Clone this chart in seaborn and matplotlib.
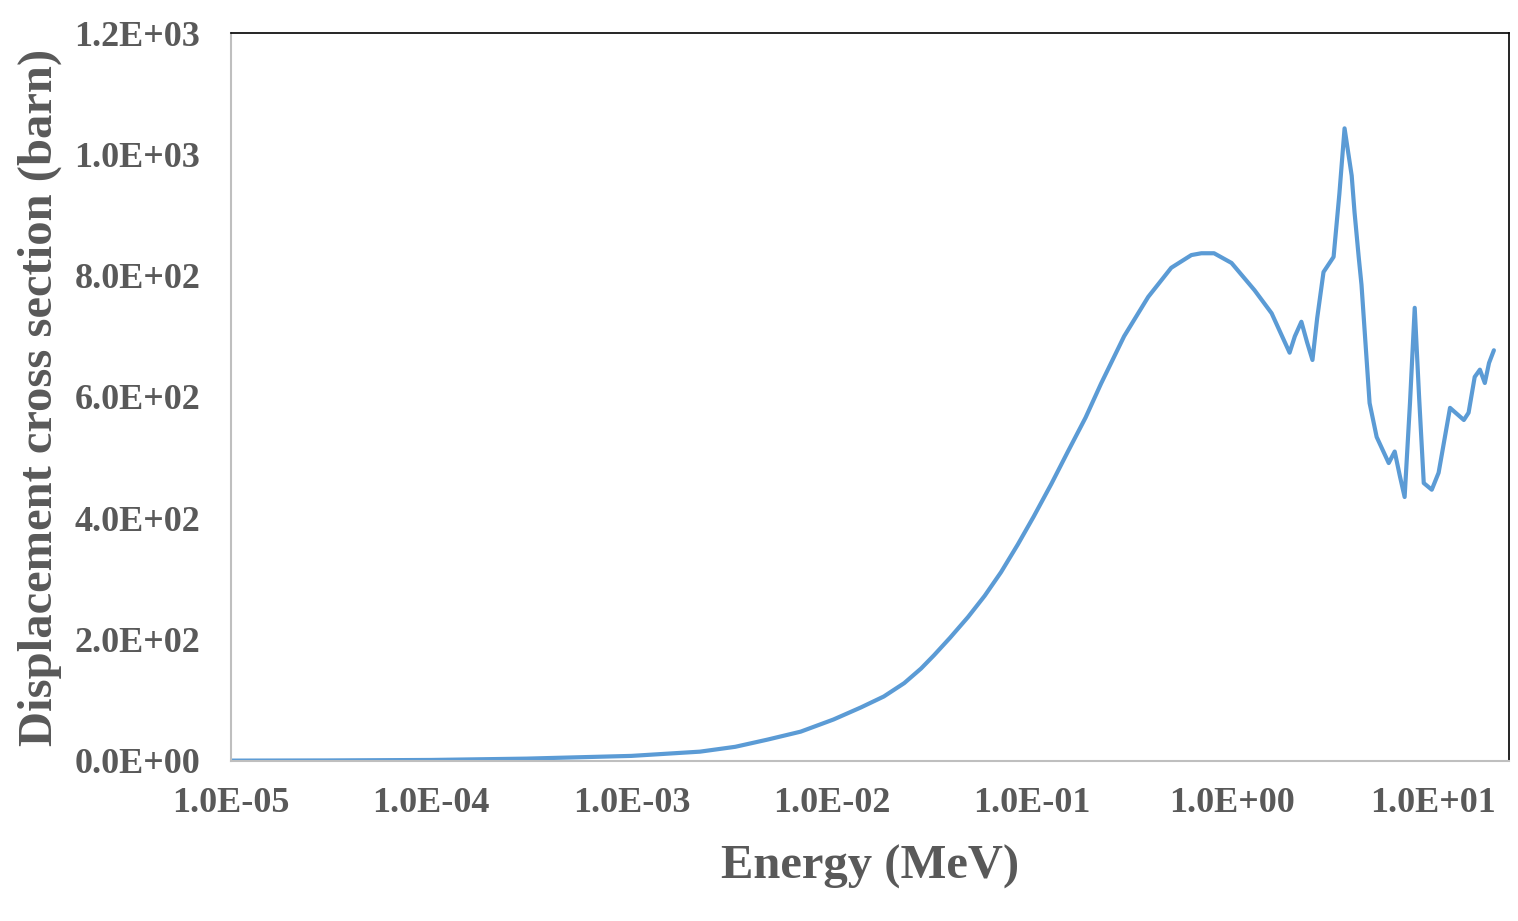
import numpy as np
import pandas as pd
import matplotlib
matplotlib.use("Agg")
import matplotlib.pyplot as plt
from matplotlib.ticker import FixedLocator, FuncFormatter, NullLocator
import seaborn as sns

# energy (MeV) and displacement cross section (barn)
energy = [1e-5, 3e-5, 1e-4, 3e-4, 1e-3, 2.2e-3, 3.3e-3, 4.8e-3, 7e-3, 1.02e-2,
          1.4e-2, 1.82e-2, 2.3e-2, 2.79e-2, 3.24e-2, 3.9e-2, 4.79e-2, 5.8e-2, 7.0e-2, 8.5e-2,
          0.102, 0.125, 0.151, 0.185, 0.221, 0.288, 0.38, 0.495, 0.624, 0.70,
          0.81, 0.99, 1.29, 1.57, 1.76, 1.93, 2.05, 2.21, 2.36, 2.51,
          2.65, 2.85, 3.2, 3.42, 3.63, 3.94, 4.07, 4.27, 4.41, 4.84,
          5.25, 6.03, 6.46, 6.85, 7.24, 7.7, 8.13, 8.55, 9.02, 9.89,
          10.7, 12.2, 14.3, 15.1, 16.2, 17.2, 18.2, 19.1, 20.2]
sigma_d = [0.2, 0.5, 1.3, 3.5, 8, 15, 23, 35, 48, 68,
           88, 106, 128, 152, 174, 203, 237, 272, 311, 357,
           403, 457, 510, 566, 622, 700, 765, 813, 834, 837,
           837, 821, 776, 738, 702, 673, 700, 724, 690, 661,
           730, 806, 831, 935, 1043, 965, 905, 831, 785, 590,
           534, 491, 510, 470, 435, 590, 747, 600, 458, 447,
           475, 582, 562, 574, 633, 645, 623, 656, 677]

x_ticks = [1e-5, 1e-4, 1e-3, 1e-2, 1e-1, 1e0, 1e1]
y_ticks = [0, 200, 400, 600, 800, 1000, 1200]

GREY = "#595959"


def sci_fmt(v, pos=None):
    m, e = f"{v:.1E}".split("E")
    return f"{m}E{int(e):+03d}"


def main():
    df = pd.DataFrame({"energy": energy, "sigma": sigma_d})

    sns.set_style("white")
    plt.rcParams["font.family"] = ["Liberation Serif", "DejaVu Serif"]
    plt.rcParams["font.weight"] = "bold"

    fig = plt.figure(figsize=(15.18, 9.21), dpi=100)
    ax = fig.add_axes([0.152, 0.174, 0.842, 0.790])

    sns.lineplot(data=df, x="energy", y="sigma", color="#5B9BD5", linewidth=3,
                 estimator=None, sort=False, ax=ax,
                 solid_joinstyle="round", solid_capstyle="round")

    ax.set_xscale("log")
    ax.set_xlim(1e-5, 24)
    ax.set_ylim(0, 1200)
    ax.xaxis.set_major_locator(FixedLocator(x_ticks))
    ax.xaxis.set_minor_locator(NullLocator())
    ax.yaxis.set_major_locator(FixedLocator(y_ticks))
    ax.xaxis.set_major_formatter(FuncFormatter(sci_fmt))
    ax.yaxis.set_major_formatter(FuncFormatter(sci_fmt))
    ax.tick_params(axis="both", length=0, labelsize=26, labelcolor=GREY)
    ax.tick_params(axis="x", pad=19)
    ax.tick_params(axis="y", pad=22)
    for lab in ax.get_xticklabels() + ax.get_yticklabels():
        lab.set_fontweight("bold")

    for side in ["top", "right"]:
        ax.spines[side].set_color("black")
        ax.spines[side].set_linewidth(1.2)
    for side in ["left", "bottom"]:
        ax.spines[side].set_color("#BFBFBF")
        ax.spines[side].set_linewidth(1.5)

    ax.set_xlabel("Energy (MeV)", fontsize=35, fontweight="bold", color=GREY, labelpad=18)
    ax.set_ylabel("Displacement cross section (barn)", fontsize=35, fontweight="bold",
                  color=GREY, labelpad=9)

    plt.savefig("out.png", dpi=100)
    plt.close()


if __name__ == "__main__":
    main()
